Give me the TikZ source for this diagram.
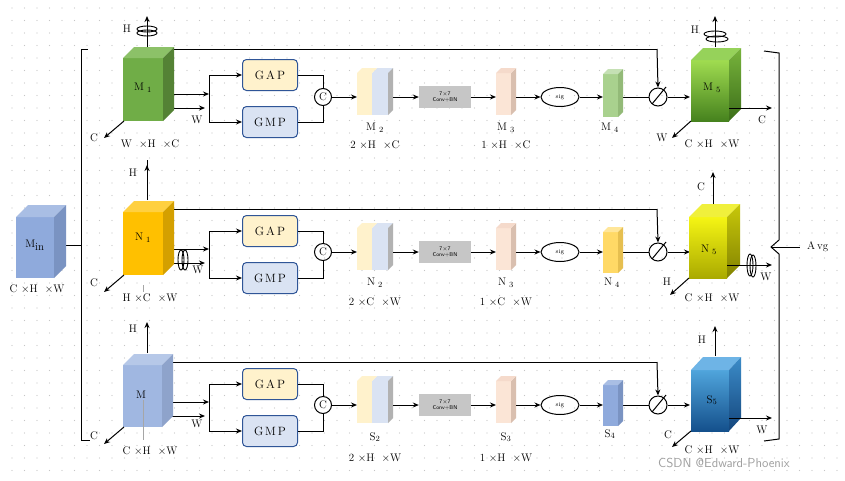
\documentclass[tikz,border=0pt]{standalone}
\usepackage{fontspec}
\usetikzlibrary{arrows.meta,shapes.geometric}
\definecolor{gapf}{HTML}{FFF2CC}\definecolor{gmpf}{HTML}{DAE3F3}\definecolor{bord}{HTML}{2F5597}
\definecolor{peach}{HTML}{FBE5D6}\definecolor{peachd}{HTML}{D9BFAF}\definecolor{peacht}{HTML}{F5DACB}
\definecolor{bf}{HTML}{8FAADC}\definecolor{bt}{HTML}{A9BEE4}\definecolor{bs}{HTML}{7A93C2}
\definecolor{gf}{HTML}{70AD47}\definecolor{gt}{HTML}{8CC168}\definecolor{gs}{HTML}{548235}
\definecolor{of}{HTML}{FFC000}\definecolor{ot}{HTML}{FFD040}\definecolor{os}{HTML}{D4A000}
\definecolor{lgf}{HTML}{A9D18E}\definecolor{lgt}{HTML}{C5E0B4}\definecolor{lgs}{HTML}{93BA78}
\definecolor{yf}{HTML}{FFD966}\definecolor{yt}{HTML}{FFE699}\definecolor{ys}{HTML}{E6BF50}
\definecolor{g5a}{RGB}{160,220,80}\definecolor{g5b}{RGB}{70,130,30}\definecolor{g5t}{RGB}{150,210,90}
\definecolor{g5c}{RGB}{120,180,60}\definecolor{g5d}{RGB}{60,110,25}
\definecolor{y5a}{RGB}{245,245,20}\definecolor{y5b}{RGB}{170,170,0}\definecolor{y5t}{RGB}{240,240,60}
\definecolor{y5c}{RGB}{200,200,10}\definecolor{y5d}{RGB}{130,130,0}
\definecolor{b5a}{RGB}{80,165,220}\definecolor{b5b}{RGB}{20,80,140}\definecolor{b5t}{RGB}{110,180,230}
\definecolor{b5c}{RGB}{60,140,200}\definecolor{b5d}{RGB}{20,70,125}
\newcommand{\mycube}[8]{% x1 y1 x2 y2 d front top side
  \fill[#6] (#1,#2) rectangle (#3,#4);
  \fill[#7] (#1,#2) -- ++(#5,-#5) -- (#3+#5,#2-#5) -- (#3,#2) -- cycle;
  \fill[#8] (#3,#2) -- (#3+#5,#2-#5) -- (#3+#5,#4-#5) -- (#3,#4) -- cycle;}
\begin{document}
\begin{tikzpicture}[x=1pt,y=-1pt,font=\fontsize{11}{12}\selectfont,
  ar/.style={-{Stealth[length=6pt,width=5pt]},line width=1pt},
  ln/.style={line width=1pt},
  box/.style={draw=bord,line width=1pt,rounded corners=4pt,minimum width=55pt,minimum height=31pt,font=\fontsize{12}{13}\selectfont},
  lab/.style={inner sep=1pt},
  dim/.style={inner sep=1pt,font=\fontsize{11}{12}\selectfont}]
\useasboundingbox (0,0) rectangle (845,480);
\fill[white] (0,0) rectangle (845,480);
\foreach \i in {0,...,66}{\foreach \j in {0,...,37}{\fill[gray!45] (12+12.5*\i,8+12.5*\j) circle (0.6pt);}}
% brackets
\draw[ln] (88,49) -- (81,49) -- (81,440) -- (90,440);
\draw[ln] (66,245) -- (81,245);
\draw[ln] (764,51) -- (779,53) -- (779,240) -- (771,247) -- (779,254) -- (779,439) -- (764,441);
\draw[ln] (771,247) -- (800,247);
\node[lab,anchor=west] (avg) at (806,247) {A\,vg};
% Min
\mycube{16}{217}{54}{278}{12}{bf}{bt}{bs}
\node (min) at (35,245) {M$_{\textrm{in}}$};
\node[dim] (mind) at (37,289) {C $\times$H \ $\times$W};
% ===== rows =====
\foreach \r/\yc/\sk/\ga/\gm in {1/97/49/75/122, 2/252/209/231/278, 3/405/362/384/431}{
  \node[box,fill=gapf] (gap\r) at (270,\ga) {G\,A\,P};
  \node[box,fill=gmpf] (gmp\r) at (270,\gm) {G\,M\,P};
  \node[circle,draw,line width=1pt,minimum size=17pt,inner sep=0pt] (cat\r) at (323,\yc) {C};
  \draw[ln] (gap\r.east) -| (cat\r.north);
  \draw[ln] (gmp\r.east) -| (cat\r.south);
  \draw[ln] (209,\ga) -- (209,\gm);
  \draw[ar] (209,\ga) -- (gap\r.west);
  \draw[ar] (209,\gm) -- (gmp\r.west);
  \draw[ar] (163,\yc-3) -- (209,\yc-3);
  \draw[ar] (163,\yc+11) -- (205,\yc+11);
  \fill[gapf] (357,\yc-24) rectangle (372,\yc+18);
  \fill[gmpf] (372,\yc-24) rectangle (388,\yc+18);
  \fill[gmpf] (372,\yc-24) -- (377,\yc-29) -- (393,\yc-29) -- (388,\yc-24) -- cycle;
  \fill[gapf] (357,\yc-24) -- (362,\yc-29) -- (377,\yc-29) -- (372,\yc-24) -- cycle;
  \fill[gray!60] (388,\yc-24) -- (393,\yc-29) -- (393,\yc+13) -- (388,\yc+18) -- cycle;
  \coordinate (s2\r) at (357,\yc);
  \draw[ar] (cat\r.east) -- (s2\r);
  \node[fill=gray!45,minimum width=52pt,minimum height=22pt,inner sep=0pt,align=center,font=\sffamily\fontsize{5.5}{6.5}\selectfont] (conv\r) at (445,\yc) {7$\times$7\\Conv+BN};
  \draw[ar] (393,\yc) -- (conv\r.west);
  \fill[peach] (496,\yc-24) rectangle (511,\yc+18);
  \fill[peachd] (511,\yc-24) -- (516,\yc-29) -- (516,\yc+13) -- (511,\yc+18) -- cycle;
  \fill[peacht] (496,\yc-24) -- (501,\yc-29) -- (516,\yc-29) -- (511,\yc-24) -- cycle;
  \coordinate (s3\r) at (496,\yc);
  \draw[ar] (conv\r.east) -- (s3\r);
  \node[ellipse,draw,line width=1pt,minimum width=38pt,minimum height=19pt,inner sep=0pt,font=\fontsize{6}{7}\selectfont] (sig\r) at (560,\yc) {sig};
  \draw[ar] (516,\yc) -- (sig\r.west);
  \coordinate (s4\r) at (603,\yc);
  \draw[ar] (sig\r.east) -- (s4\r);
  \node[circle,draw,line width=1pt,minimum size=18pt,inner sep=0pt] (mul\r) at (658,\yc) {};
  \draw[line width=1pt] (652,\yc+7) -- (666,\yc-10);
  \draw[ln] (623,\yc) -- (mul\r.west);
  \draw[ln] (173,\sk) -- (657,\sk);
  \draw[ar] (657,\sk) -- (mul\r.north);
  \coordinate (s5\r) at (690,\yc);
  \draw[ar] (mul\r.east) -- (s5\r);
}
% labels under slabs
\node[lab] (m2) at (375,128) {M$\;_2$};   \node[dim] (m2d) at (375,145) {2 $\times$H \ $\times$C};
\node[lab] (m3) at (506,128) {M$\;_3$};   \node[dim] (m3d) at (506,145) {1 $\times$H \ $\times$C};
\node[lab] (m4) at (610,128) {M$\;_4$};
\node[lab] (n2) at (375,283) {N$\;_2$};   \node[dim] (n2d) at (375,302) {2 $\times$C \ $\times$W};
\node[lab] (n3) at (506,283) {N$\;_3$};   \node[dim] (n3d) at (506,302) {1 $\times$C \ $\times$W};
\node[lab] (n4) at (612,283) {N$\;_4$};
\node[lab] (s2) at (375,437) {S$_2$};     \node[dim] (s2d) at (375,458) {2 $\times$H \ $\times$W};
\node[lab] (s3) at (506,437) {S$_3$};     \node[dim] (s3d) at (506,458) {1 $\times$H \ $\times$W};
\node[lab] (s4) at (610,434) {S$_4$};
% M4 N4 S4 slabs
\mycube{603}{74}{618}{117}{5}{lgf}{lgt}{lgs}
\mycube{603}{232}{618}{273}{5}{yf}{yt}{ys}
\mycube{603}{385}{618}{426}{5}{bf}{bt}{bs}
% ===== left cubes =====
\mycube{123}{58}{163}{121}{11}{gf}{gt}{gs}
\node (m1) at (143,88) {M$\;_1$};
\mycube{123}{212}{163}{275}{11}{of}{ot}{os}
\node (n1) at (143,238) {N$\;_1$};
\mycube{123}{365}{162}{427}{11}{bf!85!white}{bt!85!white}{bs!85!white}
\draw[gray!70] (143,400) -- (143,440);
\draw[gray!70] (143,285) -- (143,292);
\node (mm) at (141,395) {M};
% left axes
\draw[ar] (147,47) -- (147,16); \node[lab] (h1) at (127,29) {H};
\draw[line width=0.9pt] (147,29) ellipse (10pt and 3pt); \draw[line width=0.9pt] (147,33) ellipse (10pt and 3pt);
\draw[ar] (124,121) -- (104,138); \node[lab] (c1) at (94,138) {C};
\node[lab] (w1) at (197,120) {W}; \node[dim] (d1) at (150,144) {W \ $\times$H \ $\times$C};
\draw[ln] (147,160) -- (147,200); \node[lab] (h2) at (133,173) {H}; \draw[ar] (147,200) -- (147,165);
\draw[ar] (124,275) -- (104,292); \node[lab] (c2) at (94,283) {C};
\node[lab] (w2) at (198,270) {W};
\draw[line width=0.9pt] (181,260) ellipse (3pt and 10pt); \draw[line width=0.9pt] (185,260) ellipse (3pt and 10pt);
\node[dim] (d2) at (150,298) {H $\times$C \ $\times$W};
\draw[ar] (147,353) -- (147,322); \node[lab] (h3) at (133,329) {H};
\draw[ar] (124,427) -- (104,444); \node[lab] (c3) at (94,436) {C};
\node[lab] (w3) at (197,424) {W}; \node[dim] (d3) at (150,451) {C $\times$H \ $\times$W};
% ===== right cubes =====
\shade[top color=g5a,bottom color=g5b] (691,60) rectangle (729,121);
\fill[g5t] (691,60) -- (703,48) -- (741,48) -- (729,60) -- cycle;
\shade[top color=g5c,bottom color=g5d] (729,60) -- (741,48) -- (741,109) -- (729,121) -- cycle;
\node (m5) at (712,88) {M$\;_5$};
\shade[top color=y5a,bottom color=y5b] (689,217) rectangle (727,278);
\fill[y5t] (689,217) -- (702,204) -- (740,204) -- (727,217) -- cycle;
\shade[top color=y5c,bottom color=y5d] (727,217) -- (740,204) -- (740,265) -- (727,278) -- cycle;
\node (n5) at (709,250) {N$\;_5$};
\shade[top color=b5a,bottom color=b5b] (691,370) rectangle (729,431);
\fill[b5t] (691,370) -- (703,357) -- (741,357) -- (729,370) -- cycle;
\shade[top color=b5c,bottom color=b5d] (729,370) -- (741,357) -- (741,418) -- (729,431) -- cycle;
\node (s5) at (712,400) {S$_5$};
% right axes
\draw[ar] (715,47) -- (715,16); \node[lab] (h4) at (695,30) {H};
\draw[line width=0.9pt] (715,34) ellipse (11pt and 3pt); \draw[line width=0.9pt] (717,39) ellipse (11pt and 3pt);
\draw[ar] (729,108) -- (772,108); \node[lab] (c4) at (762,120) {C};
\draw[ar] (691,121) -- (672,138); \node[lab] (w4) at (662,138) {W};
\node[dim] (d4) at (712,144) {C $\times$H \ $\times$W};
\draw[ar] (713,204) -- (713,172); \node[lab] (c5) at (701,187) {C};
\draw[ar] (727,265) -- (772,265); \node[lab] (w5) at (766,277) {W};
\draw[line width=0.9pt] (750,265) ellipse (3pt and 11pt); \draw[line width=0.9pt] (753,266) ellipse (3pt and 11pt);
\draw[ar] (689,278) -- (670,295); \node[lab] (h5) at (667,282) {H};
\node[dim] (d5) at (712,298) {C $\times$H \ $\times$W};
\draw[ar] (715,356) -- (715,326); \node[lab] (h6) at (702,340) {H};
\draw[ar] (729,418) -- (772,418); \node[lab] (w6) at (762,430) {W};
\draw[ar] (691,431) -- (672,447); \node[lab] (c6) at (668,435) {C};
\node[dim] (d6) at (712,450) {C $\times$H \ $\times$W};
\node[font=\sffamily\fontsize{13}{14}\selectfont,text=gray!75] (wm) at (724,463) {CSDN @Edward-Phoenix};
\end{tikzpicture}
\end{document}
